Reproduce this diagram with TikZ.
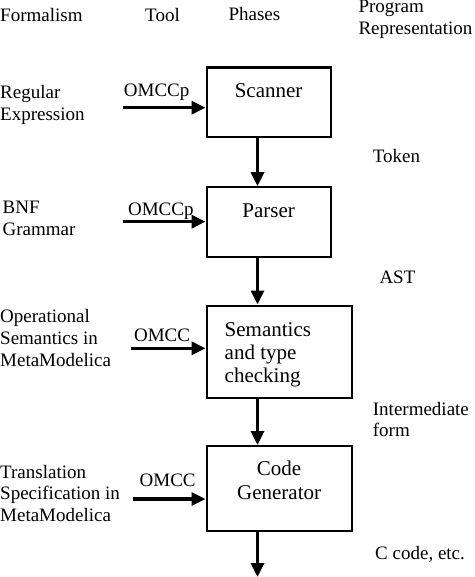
\documentclass[tikz,border=0pt]{standalone}
\usepackage{fontspec}
\setmainfont{Liberation Serif}
\usetikzlibrary{positioning, arrows.meta}

\begin{document}
\begin{tikzpicture}[
    x=1pt, y=-1pt,
    txt/.style={inner sep=0pt, anchor=base west, align=left, font=\fontsize{19}{21.8}\selectfont},
    phase/.style={rectangle, draw, line width=2.2pt, anchor=north west, minimum width=124pt},
    phasetext/.style={inner sep=0pt, anchor=base, yshift=-30.8pt, align=center, font=\fontsize{21}{23.3}\selectfont},
    arrow/.style={-{Triangle[length=14pt, width=13pt]}, line width=3.2pt},
    tool/.style={inner sep=0pt, anchor=base, font=\fontsize{19}{21.8}\selectfont}
  ]
  \useasboundingbox (0,0) rectangle (474,577);

  % Column headings (multi-line texts sit on their last baseline)
  \node[txt] (formalism) at (0,21.3) {Formalism};
  \node[txt] (tool) at (145,21.3) {Tool};
  \node[txt] (phases) at (228.3,20.5) {Phases};
  \node[txt] (progrepr) at (358.3,34.2) {Program\\Representation};

  % Phases
  \node[phase, minimum height=69.5pt, label={[phasetext]north:Scanner}] (scanner) at (205.5,66.5) {};
  \node[phase, minimum height=70pt, label={[phasetext]north:Parser}] (parser) at (205.5,186.2) {};
  \node[phase, minimum width=145pt, minimum height=92.5pt,
        label={[phasetext, anchor=base west, xshift=19pt, yshift=-47.5pt, align=left]north west:{Semantics\\and type\\checking}}] (semantics) at (205.5,304.5) {};
  \node[phase, minimum width=145pt, minimum height=84.7pt,
        label={[phasetext, yshift=-23.3pt]north:{Code\\Generator}}] (codegen) at (205.5,445) {};

  % Formalisms
  \node[txt] (regexp) at (0,120.6) {Regular\\Expression};
  \node[txt] (bnf) at (2.5,235.6) {BNF\\Grammar};
  \node[txt] (opsem) at (0,366.4) {Operational\\Semantics in\\MetaModelica};
  \node[txt] (transspec) at (0,521.6) {Translation\\Specification in\\MetaModelica};

  % Program representations
  \node[txt] (token) at (372.7,163) {Token};
  \node[txt] (ast) at (379.3,283) {AST};
  \node[txt] (interm) at (372.7,436.8) {Intermediate\\form};
  \node[txt] (ccode) at (375,559.5) {C code, etc.};

  % Tools
  \coordinate (in1) at (122.7,107.7);
  \coordinate (in2) at (122.7,221.7);
  \coordinate (in3) at (130.7,348.3);
  \coordinate (in4) at (132.7,499);
  \draw[arrow] (in1) -- (in1 -| scanner.west) node[tool, pos=0.41, yshift=10.7pt] {OMCCp};
  \draw[arrow] (in2) -- (in2 -| parser.west) node[tool, pos=0.46, yshift=6.7pt] {OMCCp};
  \draw[arrow] (in3) -- (in3 -| semantics.west) node[tool, pos=0.42, yshift=6.6pt] {OMCC};
  \draw[arrow] (in4) -- (in4 -| codegen.west) node[tool, pos=0.48, yshift=13pt] {OMCC};

  % Phase to phase
  \coordinate (spine) at (257.5,0);
  \coordinate (out) at (257.5,577);
  \draw[arrow] (scanner.south -| spine) -- (parser.north -| spine);
  \draw[arrow] (parser.south -| spine) -- (semantics.north -| spine);
  \draw[arrow] (semantics.south -| spine) -- (codegen.north -| spine);
  \draw[arrow] (codegen.south -| spine) -- (out);
\end{tikzpicture}
\end{document}
